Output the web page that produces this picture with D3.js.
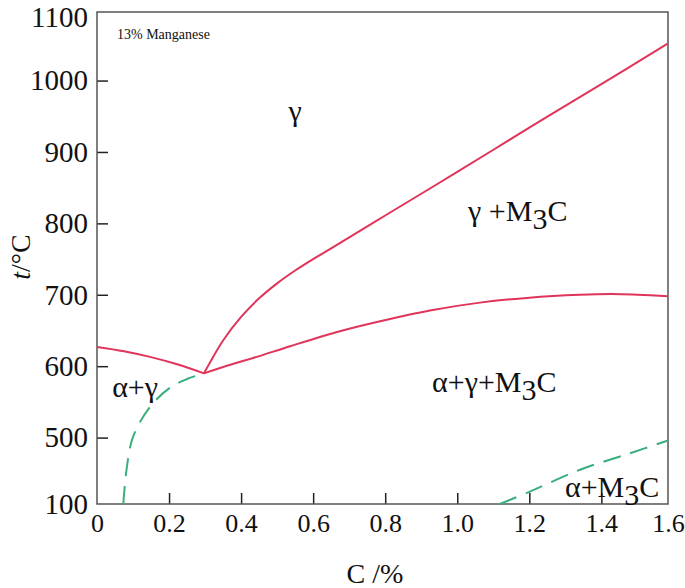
<!DOCTYPE html>
<meta charset="utf-8">
<style>
  body { margin: 0; background: #fff; }
  svg text { font-family: "Liberation Serif", "Times New Roman", serif; fill: #111; }
  .frame { fill: none; stroke: #555; stroke-width: 1.5; }
  .axis path { display: none; }
  .axis line { stroke: #222; stroke-width: 1.5; }
</style>
<body>
<script src="https://d3js.org/d3.v7.min.js"></script>
<script>
// tick labels (axis is broken: bottom of the frame is labelled 100)
var xTickVals = [0, 0.2, 0.4, 0.6, 0.8, 1.0, 1.2, 1.4, 1.585];
var xTickText = ["0", "0.2", "0.4", "0.6", "0.8", "1.0", "1.2", "1.4", "1.6"];
var yTickVals = [407, 500, 600, 700, 800, 900, 1000, 1096];
var yTickText = ["100", "500", "600", "700", "800", "900", "1000", "1100"];

// phase boundaries, [C %, t °C]
var a3Line = [[0, 627], [0.075, 621], [0.147, 613], [0.22, 603], [0.297, 590]];
var acmLine = [[0.297, 590], [0.35, 636], [0.4, 669], [0.45, 695], [0.5, 716], [0.55, 734],
               [0.6, 750], [0.65, 765], [0.8, 811], [1.0, 872], [1.2, 934], [1.4, 995],
               [1.585, 1052]];
var a1Line = [[0.297, 590], [0.37, 602], [0.443, 613], [0.536, 628], [0.674, 649], [0.786, 663],
              [0.924, 678], [1.063, 689], [1.2, 696], [1.34, 700], [1.43, 701], [1.5, 700],
              [1.585, 698]];
var alphaLeft = [[0.073, 407], [0.082, 455], [0.1, 501], [0.147, 543], [0.203, 570], [0.25, 582], [0.297, 590]];
var alphaRight = [[1.118, 407], [1.2, 424], [1.341, 455], [1.479, 478], [1.585, 496]];

// region labels: text, subscript, text after subscript, C %, t, anchor
var regions = [
  ["\u03b3", "", "", 0.55, 943, "middle"],
  ["\u03b3 +M", "3", "C", 1.03, 803, "start"],
  ["\u03b1+\u03b3+M", "3", "C", 0.93, 564, "start"],
  ["\u03b1+M", "3", "C", 1.299, 417, "start"],
  ["\u03b1+\u03b3", "", "", 0.042, 557, "start"]
];

var width = 685, height = 588;
var plot = {left: 97, right: 668, top: 12, bottom: 504};

var svg = d3.select("body").append("svg")
    .attr("width", width)
    .attr("height", height);

var x = d3.scaleLinear().domain([0, 1.585]).range([plot.left, plot.right]);
var y = d3.scaleLinear().domain([407, 1096]).range([plot.bottom, plot.top]);

var xAxis = svg.append("g")
    .attr("class", "axis")
    .attr("transform", "translate(0," + plot.bottom + ")")
    .call(d3.axisBottom(x).tickValues(xTickVals).tickSize(-11)
      .tickFormat(function (d, i) { return xTickText[i]; }));
xAxis.selectAll("text").attr("y", 28).attr("dy", null).style("font-size", "26px");
xAxis.selectAll(".tick line").filter(function (d, i) { return i === 0 || i === xTickVals.length - 1; }).remove();

var yAxis = svg.append("g")
    .attr("class", "axis")
    .attr("transform", "translate(" + plot.left + ",0)")
    .call(d3.axisLeft(y).tickValues(yTickVals).tickSize(-11).tickPadding(9)
      .tickFormat(function (d, i) { return yTickText[i]; }));
yAxis.selectAll("text").style("font-size", "29px")
    .attr("dy", function (d, i) { return i === yTickVals.length - 1 ? "0.5em" : "0.32em"; });
yAxis.selectAll(".tick line").filter(function (d, i) { return i === 0 || i === yTickVals.length - 1; }).remove();

svg.append("rect")
    .attr("class", "frame")
    .attr("x", plot.left).attr("y", plot.top)
    .attr("width", plot.right - plot.left)
    .attr("height", plot.bottom - plot.top);

var line = d3.line()
    .x(function (d) { return x(d[0]); })
    .y(function (d) { return y(d[1]); })
    .curve(d3.curveCatmullRom.alpha(0.5));

[alphaLeft, alphaRight].forEach(function (pts) {
  svg.append("path")
      .datum(pts)
      .attr("d", line)
      .attr("fill", "none")
      .attr("stroke", "#3aae7c")
      .attr("stroke-width", 2)
      .attr("stroke-dasharray", "18,10");
});

[a3Line, acmLine, a1Line].forEach(function (pts) {
  svg.append("path")
      .datum(pts)
      .attr("d", line)
      .attr("fill", "none")
      .attr("stroke", "#e0345a")
      .attr("stroke-width", 2);
});

regions.forEach(function (r) {
  var t = svg.append("text")
      .attr("x", x(r[3]))
      .attr("y", y(r[4]))
      .attr("text-anchor", r[5])
      .style("font-size", "30px");
  t.append("tspan").text(r[0]);
  if (r[1]) {
    t.append("tspan").attr("dy", 8).text(r[1]);
    t.append("tspan").attr("dy", -8).text(r[2]);
  }
});

svg.append("text")
    .attr("x", 117).attr("y", 39)
    .style("font-size", "14px")
    .text("13% Manganese");

svg.append("text")
    .attr("x", 375).attr("y", 583)
    .attr("text-anchor", "middle")
    .style("font-size", "28px")
    .text("C /%");

var yl = svg.append("text")
    .attr("transform", "translate(30,257) rotate(-90)")
    .attr("text-anchor", "middle")
    .style("font-size", "28px");
yl.append("tspan").style("font-style", "italic").text("t");
yl.append("tspan").text("/\u00b0C");
</script>
</body>
